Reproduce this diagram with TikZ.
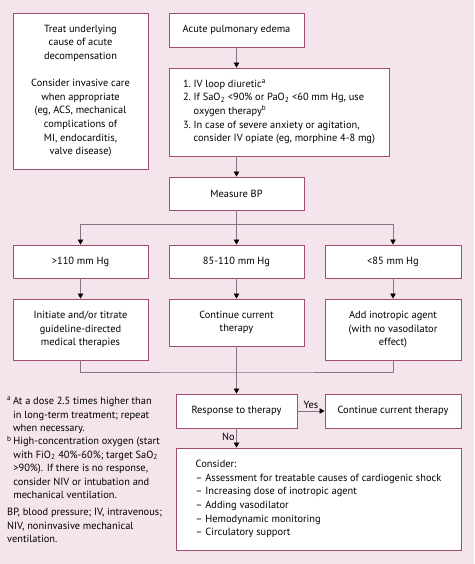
\documentclass[tikz,border=0pt]{standalone}
\usepackage{fontspec}
\setmainfont{PT Sans}
\usetikzlibrary{arrows.meta, positioning}
\definecolor{bgpink}{HTML}{F4E4EC}
\definecolor{boxline}{HTML}{A24C74}
\definecolor{linkgray}{HTML}{8A7282}
\tikzset{
  reg/.style={
    rectangle,
    minimum width=135pt,
    minimum height=33pt,
    inner sep=0pt,
    align=center,
    draw=boxline,
    fill=white,
    line width=0.9pt,
    font=\fontsize{10.4}{13.6}\selectfont
  },
  listbox/.style={
    reg,
    align=left,
    inner xsep=9pt
  },
  line/.style={linkgray, line width=0.8pt},
  arrow/.style={line, -{Triangle[length=5pt,width=5.5pt,color=black]}},
  lbl/.style={font=\fontsize{10.4}{13.6}\selectfont, text=black, inner sep=1.5pt}
}

\begin{document}
\begin{tikzpicture}[x=1pt, y=-1pt]
    \fill[bgpink] (0,0) rectangle (474,564);
    \useasboundingbox (0,0) rectangle (474,564);

    % left column
    \node (cause) [reg, minimum height=156pt] at (80.5,91)
      {Treat underlying\\cause of acute\\decompensation\\[13.6pt]
       Consider invasive care\\when appropriate\\(eg, ACS, mechanical\\
       complications of\\MI, endocarditis,\\valve disease)};

    % main column
    \node (edema) [reg, minimum height=34pt] at (236.5,30) {Acute pulmonary edema};
    \node (steps) [listbox, minimum width=220pt, minimum height=88pt] at (279,112)
      {1.~IV loop diuretic\textsuperscript{a}\\
       2.~If SaO\textsubscript{2} <90\% or PaO\textsubscript{2} <60 mm Hg, use\\
       \phantom{2.~}oxygen therapy\textsuperscript{b}\\
       3.~In case of severe anxiety or agitation,\\
       \phantom{3.~}consider IV opiate (eg, morphine 4-8 mg)};
    \node (bp) [reg] at (236.5,193.5) {Measure BP};

    % blood pressure ranges
    \node (high) [reg] at (80.5,261.5) {>110 mm Hg};
    \node (mid) [reg] at (236.5,261.5) {85-110 mm Hg};
    \node (low) [reg, minimum width=136pt] at (393,261.5) {<85 mm Hg};

    \node (titrate) [reg, minimum height=61pt] at (80.5,329.5)
      {Initiate and/or titrate\\guideline-directed\\medical therapies};
    \node (keep) [reg, minimum height=47pt] at (236.5,322.5) {Continue current\\therapy};
    \node (inotrope) [reg, minimum width=136pt, minimum height=61pt] at (393,329.5)
      {Add inotropic agent\\(with no vasodilator\\effect)};

    % response
    \node (resp) [reg, minimum width=121pt, minimum height=34pt] at (236.5,411) {Response to therapy};
    \node (cont) [reg, minimum width=136pt, minimum height=34pt] at (393,411) {Continue current therapy};
    \node (consider) [listbox, minimum width=285pt, minimum height=102pt, inner xsep=14pt] at (318.5,499)
      {Consider:\\
       -- Assessment for treatable causes of cardiogenic shock\\
       -- Increasing dose of inotropic agent\\
       -- Adding vasodilator\\
       -- Hemodynamic monitoring\\
       -- Circulatory support};

    % footnotes
    \node (notes) [anchor=north west, align=left, inner sep=0pt,
      font=\fontsize{10.4}{13.4}\selectfont] at (7,397)
      {\textsuperscript{a}\,At a dose 2.5 times higher than\\
       \phantom{\textsuperscript{a}\,}in long-term treatment; repeat\\
       \phantom{\textsuperscript{a}\,}when necessary.\\
       \textsuperscript{b}\,High-concentration oxygen (start\\
       \phantom{\textsuperscript{b}\,}with FiO\textsubscript{2} 40\%-60\%; target SaO\textsubscript{2}\\
       \phantom{\textsuperscript{b}\,}>90\%). If there is no response,\\
       \phantom{\textsuperscript{b}\,}consider NIV or intubation and\\
       \phantom{\textsuperscript{b}\,}mechanical ventilation.\\[4pt]
       BP, blood pressure; IV, intravenous;\\
       NIV, noninvasive mechanical\\
       ventilation.};

    \coordinate (split) at (236.5,224);
    \coordinate (merge) at (236.5,372);

    \draw[arrow] (edema) -- (edema.south |- steps.north);
    \draw[arrow] (bp.north |- steps.south) -- (bp);
    \draw[line] (bp) -- (split);
    \draw[arrow] (split) -| (high);
    \draw[arrow] (split) -- (mid);
    \draw[arrow] (split) -| (low);
    \draw[arrow] (high) -- (titrate);
    \draw[arrow] (mid) -- (keep);
    \draw[arrow] (low) -- (inotrope);
    \draw[line] (titrate.south) |- (merge) -| (inotrope.south);
    \draw[arrow] (keep) -- (resp);
    \draw[arrow] (resp) -- node[lbl, above] {Yes} (cont);
    \draw[arrow] (resp) -- node[lbl, left, pos=0.45] {No} (resp.south |- consider.north);
\end{tikzpicture}
\end{document}
